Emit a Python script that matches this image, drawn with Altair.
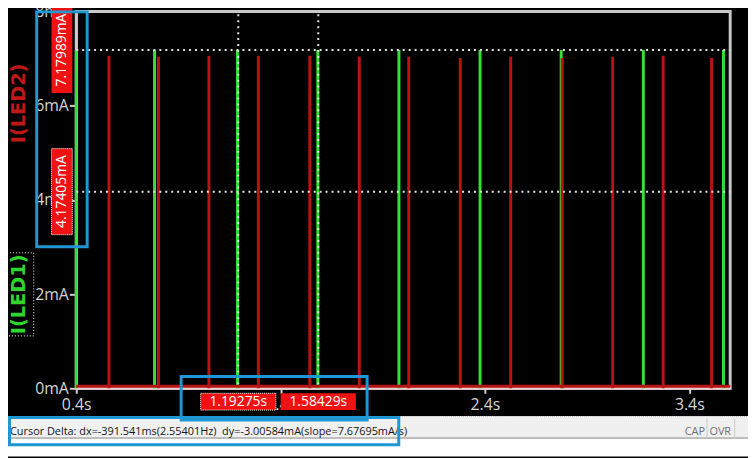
import altair as alt
import pandas as pd

# ---------------- data ----------------
red_times = [0.560, 0.802, 1.049, 1.291, 1.543, 1.785, 2.027, 2.279, 2.526, 2.778, 3.025, 3.272, 3.509]
red_peaks = [7.06, 7.04, 7.06, 7.06, 7.06, 7.04, 7.04, 7.01, 7.04, 7.01, 7.04, 7.06, 7.01]
green_times = [0.400, 0.783, 1.189, 1.582, 1.979, 2.376, 2.773, 3.175, 3.567]
green_peaks = [7.18, 7.18, 7.18, 7.18, 7.18, 7.18, 7.18, 7.18, 7.18]

cursor_x = [1.19275, 1.58429]
cursor_x_labels = ["1.19275s", "1.58429s"]
cursor_y = [7.17989, 4.17405]
cursor_y_labels = ["7.17989mA", "4.17405mA"]
active_x_cursor = 0
active_y_cursor = 1

x_domain = [0.4, 3.6]
y_domain = [0, 8]
x_ticks = [0.4, 1.4, 2.4, 3.4]
y_ticks = [0, 2, 4, 6, 8]

trace_names = ["I(LED2)", "I(LED1)"]
status_text = "Cursor Delta: dx=-391.541ms(2.55401Hz)\u00a0 dy=-3.00584mA(slope=7.67695mA/s)"
status_flags = ["CAP", "OVR"]

# ---------------- layout / style ----------------
W, H = 661, 381
PAD = {"left": 69, "top": 1, "right": 18, "bottom": 68}
RED = "#b81414"
GREEN = "#33e033"
BOXRED = "#f01212"
LABEL = "#d6d6d6"
BLUE = "#1f97d4"
FONT = "Open Sans"

red_df = pd.DataFrame({"t": red_times, "peak": red_peaks})
green_df = pd.DataFrame({"t": green_times, "peak": green_peaks})
cx_df = pd.DataFrame({"t": cursor_x, "label": cursor_x_labels,
                      "active": [i == active_x_cursor for i in range(len(cursor_x))]})
cy_df = pd.DataFrame({"v": cursor_y, "label": cursor_y_labels,
                      "active": [i == active_y_cursor for i in range(len(cursor_y))]})
one = pd.DataFrame({"a": [0]})

xs = alt.Scale(domain=x_domain, nice=False, zero=False)
ys = alt.Scale(domain=y_domain, nice=False, zero=False)

xaxis = alt.Axis(values=x_ticks, labelExpr="format(datum.value, '.1f') + 's'", title=None,
                 grid=False, domainColor="#ead2d2", domainWidth=2, tickColor="#d0d0d0",
                 tickSize=5, tickWidth=2, labelColor=LABEL, labelFontSize=16, labelFont=FONT,
                 labelPadding=3, labelFlush=False, labelOverlap=False)
yaxis = alt.Axis(values=y_ticks, labelExpr="datum.value + 'mA'", title=None,
                 grid=False, domainColor="#d0d0d0", domainWidth=2, tickColor="#d0d0d0",
                 tickSize=7, tickWidth=2, labelColor=LABEL, labelFontSize=16, labelFont=FONT,
                 labelPadding=1, labelFlush=False, labelOverlap=False)


def X(field):
    return alt.X(field, scale=xs, axis=xaxis)


def Y(field):
    return alt.Y(field, scale=ys, axis=yaxis)


def box(x0, x1, y0, y1, **kw):
    return alt.Chart(one).mark_rect(**kw).encode(
        x=alt.value(x0), x2=alt.value(x1), y=alt.value(y0), y2=alt.value(y1))


# status bar background (page y 418..440, white below)
status_bg = box(-77, 679, 409, 431, color="#f0f0f0")
status_white = box(-77, 679, 431, 450, color="#ffffff")
status_line = alt.Chart(one).mark_rule(color="#a8a8a8", strokeWidth=1).encode(
    x=alt.value(-77), x2=alt.value(679), y=alt.value(431.5))
status_top = alt.Chart(one).mark_rule(color="#bdbdbd", strokeWidth=1, strokeDash=[1, 1]).encode(
    x=alt.value(-77), x2=alt.value(679), y=alt.value(409.5))

# pulses
green = alt.Chart(green_df).mark_rule(color=GREEN, strokeWidth=3).encode(
    x=X("t:Q"), y=Y("peak:Q"), y2=alt.datum(0))
red = alt.Chart(red_df).mark_rule(color=RED, strokeWidth=3).encode(
    x=X("t:Q"), y=Y("peak:Q"), y2=alt.datum(0))
baseline = alt.Chart(one).mark_rule(color=RED, strokeWidth=3, yOffset=-2).encode(
    x=alt.datum(x_domain[0], scale=xs, axis=xaxis), x2=alt.datum(x_domain[1]),
    y=alt.datum(0, scale=ys, axis=yaxis))

# cursors
vcur = alt.Chart(cx_df).mark_rule(color="#e2e2e2", strokeWidth=2, strokeDash=[2, 4]).encode(
    x=X("t:Q"), y=alt.value(3), y2=alt.value(H))
hcur = alt.Chart(cy_df).mark_rule(color="#e2e2e2", strokeWidth=2, strokeDash=[2, 4]).encode(
    y=Y("v:Q"), x=alt.value(0), x2=alt.value(W))

# cursor readouts
xbox = alt.Chart(cx_df).mark_point(
    shape="M-38,-8.5H38V8.5H-38Z", size=4, filled=True, fill=BOXRED, opacity=1,
    stroke="white", strokeWidth=1, strokeDash=[1, 1]).encode(
    x=X("t:Q"), y=alt.value(394.5),
    strokeOpacity=alt.condition("datum.active", alt.value(1), alt.value(0)))
xtxt = alt.Chart(cx_df).mark_text(color="white", fontSize=14, font=FONT,
                                  align="center", baseline="middle").encode(
    x=X("t:Q"), y=alt.value(395), text="label:N")
ybox = alt.Chart(cy_df).mark_point(
    shape="M-10.5,-43.5H10.5V43.5H-10.5Z", size=4, filled=True, fill=BOXRED, opacity=1,
    stroke="white", strokeWidth=1, strokeDash=[1, 1]).encode(
    y=Y("v:Q"), x=alt.value(-14.5),
    strokeOpacity=alt.condition("datum.active", alt.value(1), alt.value(0)))
ytxt = alt.Chart(cy_df).mark_text(color="white", fontSize=14, font=FONT, angle=270,
                                  align="center", baseline="middle").encode(
    y=Y("v:Q"), x=alt.value(-14), text="label:N")

# trace titles
t_led2 = alt.Chart(one).mark_text(text=trace_names[0], angle=270, font="DejaVu Sans",
                                  fontWeight="bold", fontSize=19.5, color="#c01818",
                                  align="center", baseline="middle").encode(
    x=alt.value(-58), y=alt.value(93))
t_led1 = alt.Chart(one).mark_text(text=trace_names[1], angle=270, font="DejaVu Sans",
                                  fontWeight="bold", fontSize=19.5, color="#2ed62e",
                                  align="center", baseline="middle").encode(
    x=alt.value(-57.5), y=alt.value(286))
led1_frame = box(-73, -43, 244, 328, filled=False, stroke="white", strokeWidth=1,
                 strokeDash=[1, 2])

# blue annotation frames
blue1 = box(-40, 11, 0.5, 238, filled=False, stroke=BLUE, strokeWidth=3)
blue2 = box(106, 294, 369, 413, filled=False, stroke=BLUE, strokeWidth=3)
blue3 = box(-67.5, 326, 410.5, 438, filled=False, stroke=BLUE, strokeWidth=3)

# status text
stxt = alt.Chart(one).mark_text(text=status_text, align="left", baseline="alphabetic",
                                fontSize=11, font=FONT, color="#151515").encode(
    x=alt.value(-67), y=alt.value(428))
cap = alt.Chart(one).mark_text(text=status_flags[0], align="left", baseline="alphabetic",
                               fontSize=11, font=FONT, color="#707070").encode(
    x=alt.value(615), y=alt.value(428))
ovr = alt.Chart(one).mark_text(text=status_flags[1], align="left", baseline="alphabetic",
                               fontSize=11, font=FONT, color="#707070").encode(
    x=alt.value(640), y=alt.value(428))
sep1 = alt.Chart(one).mark_rule(color="#c8c8c8", strokeWidth=1).encode(
    x=alt.value(637.5), y=alt.value(412), y2=alt.value(431))
sep2 = alt.Chart(one).mark_rule(color="#c8c8c8", strokeWidth=1).encode(
    x=alt.value(665.5), y=alt.value(412), y2=alt.value(431))

chart = alt.layer(
    green, red, baseline, vcur, hcur,
    status_bg, status_white, status_line, status_top,
    xbox, xtxt, ybox, ytxt,
    t_led2, t_led1, led1_frame,
    stxt, cap, ovr, sep1, sep2,
    blue1, blue2, blue3,
).properties(
    width=W, height=H,
    autosize=alt.AutoSizeParams(type="none"),
    padding=PAD,
    background="black",
).configure_view(stroke="#c8c8c8", strokeWidth=3)

chart.save("out.html", embed_options={"renderer": "svg", "actions": False})
